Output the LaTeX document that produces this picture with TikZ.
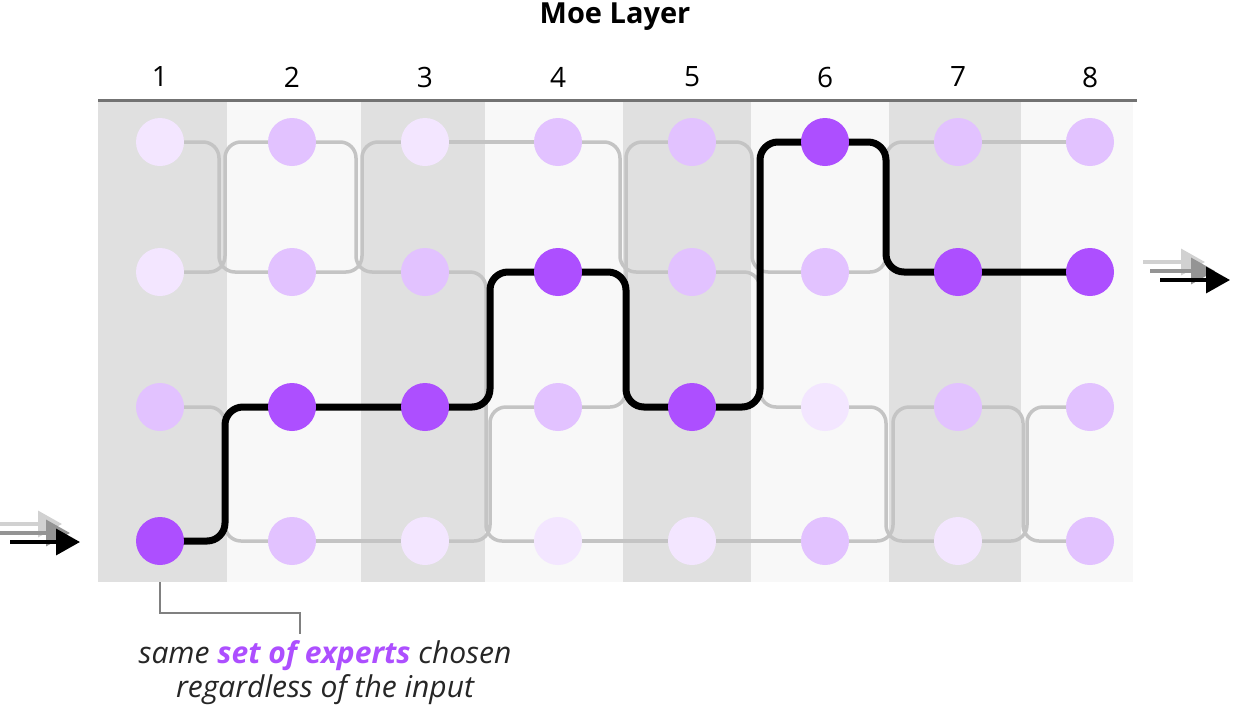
\documentclass[tikz,border=0pt]{standalone}
\usepackage{fontspec}
\setmainfont{Open Sans}
\usetikzlibrary{arrows.meta}
\definecolor{dk}{HTML}{AD4FFF}
\definecolor{md}{HTML}{E2C2FF}
\definecolor{lt}{HTML}{F3E6FF}
\definecolor{bandA}{HTML}{E0E0E0}
\definecolor{bandB}{HTML}{F8F8F8}
\definecolor{gline}{HTML}{C4C4C4}
\tikzset{
  gl/.style={draw=gline,line width=3.5pt,rounded corners=16pt},
  bl/.style={draw=black,line width=7pt,rounded corners=18pt},
  dot/.style={circle,inner sep=0pt,minimum size=48pt,fill=#1},
  num/.style={font=\fontsize{28}{30}\selectfont},
  arr/.style={line width=3.5pt,-{Triangle[length=24pt,width=26pt]}}
}
\begin{document}
\begin{tikzpicture}[x=1pt,y=-1pt]
\useasboundingbox (0,0) rectangle (1243,716);
% bands
\fill[bandA] (98,100) rectangle (227,582);
\fill[bandB] (227,100) rectangle (361,582);
\fill[bandA] (361,100) rectangle (485,582);
\fill[bandB] (485,100) rectangle (623,582);
\fill[bandA] (623,100) rectangle (751,582);
\fill[bandB] (751,100) rectangle (889,582);
\fill[bandA] (889,100) rectangle (1021,582);
\fill[bandB] (1021,100) rectangle (1133,582);
\draw[gray!90!black,line width=3pt] (98,100) -- (1137,100);
\node[font=\bfseries\fontsize{29}{32}\selectfont] (title) at (615,17) {Moe Layer};
% positions
\foreach \c/\x in {1/160,2/292,3/425,4/558,5/692,6/825,7/958,8/1090}{
  \node[num] (h\c) at (\x,77) {\c};
  \foreach \r/\y in {1/142,2/272,3/407,4/541}{
    \coordinate (p-\c-\r) at (\x,\y);
  }
}
\coordinate (b1) at (219,0); \coordinate (b1x) at (225,0);
\coordinate (b2) at (356,0); \coordinate (b2x) at (362,0);
\coordinate (b3) at (486,0); \coordinate (b3x) at (490,0);
\coordinate (b4) at (620,0); \coordinate (b4x) at (626,0);
\coordinate (b5) at (752,0); \coordinate (b5x) at (760,0);
\coordinate (b6) at (886,0); \coordinate (b6x) at (893,0);
\coordinate (b7) at (1023,0); \coordinate (b7x) at (1027,0);
\foreach \a/\ar/\bb/\br/\xb in {
 1/1/2/2/b1, 1/2/2/1/b1x, 1/3/2/4/b1x,
 2/1/3/2/b2, 2/2/3/1/b2x,
 3/2/4/4/b3, 3/4/4/3/b3x,
 4/1/5/2/b4, 4/3/5/1/b4x,
 5/1/6/2/b5, 5/2/6/3/b5x,
 6/2/7/1/b6, 6/3/7/4/b6, 6/4/7/3/b6x,
 7/3/8/4/b7, 7/4/8/3/b7x}{
  \draw[gl] (p-\a-\ar) -- (\xb|-p-\a-\ar) -- (\xb|-p-\bb-\br) -- (p-\bb-\br);
}
\foreach \a/\b/\r in {2/3/4, 3/4/1, 4/5/4, 5/6/4, 7/8/1}{
  \draw[gl] (p-\a-\r) -- (p-\b-\r);
}
% black path
\draw[bl] (p-1-4) -- (b1x|-p-1-4) -- (b1x|-p-2-3) -- (p-2-3) -- (p-3-3)
  -- (b3x|-p-3-3) -- (b3x|-p-4-2) -- (p-4-2) -- (b4x|-p-4-2) -- (b4x|-p-5-3)
  -- (p-5-3) -- (b5x|-p-5-3) -- (b5x|-p-6-1) -- (p-6-1) -- (b6|-p-6-1)
  -- (b6|-p-7-2) -- (p-7-2) -- (p-8-2);
% dots
\foreach \c/\la/\lb/\lc/\ld in {1/lt/lt/md/dk, 2/md/md/dk/md, 3/lt/md/dk/lt, 4/md/dk/md/lt,
  5/md/md/dk/lt, 6/dk/md/lt/md, 7/md/dk/md/lt, 8/md/dk/md/md}{
  \node[dot=\la] (n-\c-1) at (p-\c-1) {};
  \node[dot=\lb] (n-\c-2) at (p-\c-2) {};
  \node[dot=\lc] (n-\c-3) at (p-\c-3) {};
  \node[dot=\ld] (n-\c-4) at (p-\c-4) {};
}
% arrows
\coordinate (la1) at (0,524); \coordinate (la1e) at (62,524);
\coordinate (la2) at (0,533); \coordinate (la2e) at (70,533);
\coordinate (la3) at (10,542); \coordinate (la3e) at (80,542);
\draw[arr,black!18] (la1) -- (la1e);
\draw[arr,black!42] (la2) -- (la2e);
\draw[arr,black] (la3) -- (la3e);
\coordinate (ra1) at (1143,262); \coordinate (ra1e) at (1205,262);
\coordinate (ra2) at (1150,271); \coordinate (ra2e) at (1215,271);
\coordinate (ra3) at (1160,280); \coordinate (ra3e) at (1230,280);
\draw[arr,black!18] (ra1) -- (ra1e);
\draw[arr,black!42] (ra2) -- (ra2e);
\draw[arr,black] (ra3) -- (ra3e);
% callout
\node[font=\itshape\fontsize{30}{34}\selectfont,align=center,text=black!85] (note) at (325,673)
 {same {\bfseries\color{dk}set of experts} chosen\\regardless of the input};
\coordinate (c1) at (300,634);
\draw[gray,line width=1.5pt] (n-1-4.south|-160,582) -- (160,613) -| (c1);
\end{tikzpicture}
\end{document}
